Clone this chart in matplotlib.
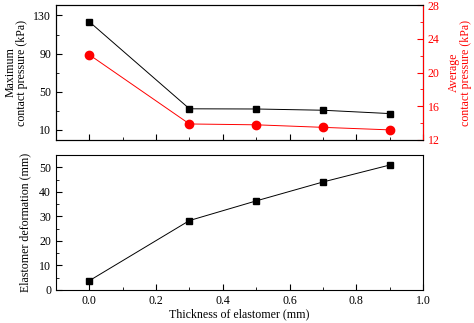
import matplotlib.pyplot as plt
from matplotlib.ticker import MultipleLocator

plt.rcParams['font.family'] = ['Liberation Serif', 'DejaVu Serif']
plt.rcParams['font.size'] = 8.6

thickness = [0.0, 0.3, 0.5, 0.7, 0.9]
max_pressure = [123.4, 32.2, 32.0, 30.7, 27.2]
avg_pressure = [22.1, 13.9, 13.8, 13.5, 13.2]
deformation = [3.8, 28.3, 36.3, 44.0, 50.9]

fig = plt.figure(figsize=(4.74, 3.23), dpi=100)
ax1 = fig.add_axes([56/474, 1 - 140/323, 367/474, 135/323])
ax3 = fig.add_axes([56/474, 1 - 290/323, 367/474, 135/323])

ax1.plot(thickness, max_pressure, color='black', lw=0.7, marker='s', ms=5, mfc='black')
ax1.set_xlim(-0.1, 1.0)
ax1.set_ylim(-0.5, 141)
ax1.set_yticks([10, 50, 90, 130])
ax1.set_yticks([30, 70, 110], minor=True)
ax1.xaxis.set_major_locator(MultipleLocator(0.2))
ax1.xaxis.set_minor_locator(MultipleLocator(0.1))
ax1.tick_params(which='both', direction='in', labelbottom=False)
ax1.tick_params(which='major', length=4)
ax1.tick_params(which='minor', length=2)
ax1.set_ylabel('Maximum\ncontact pressure (kPa)', linespacing=0.95, labelpad=4)

ax2 = ax1.twinx()
ax2.plot(thickness, avg_pressure, color='red', lw=0.7, marker='o', ms=6, mfc='red', mec='red')
ax2.set_ylim(12, 28)
ax2.yaxis.set_major_locator(MultipleLocator(4))
ax2.yaxis.set_minor_locator(MultipleLocator(2))
ax2.tick_params(which='both', direction='in', colors='red')
ax2.tick_params(which='major', length=4)
ax2.tick_params(which='minor', length=2)
ax2.set_ylabel('Average\ncontact pressure (kPa)', color='red', linespacing=0.95, labelpad=6)

ax3.plot(thickness, deformation, color='black', lw=0.7, marker='s', ms=5, mfc='black')
ax3.set_xlim(-0.1, 1.0)
ax3.set_ylim(0, 55)
ax3.yaxis.set_major_locator(MultipleLocator(10))
ax3.yaxis.set_minor_locator(MultipleLocator(5))
ax3.xaxis.set_major_locator(MultipleLocator(0.2))
ax3.xaxis.set_minor_locator(MultipleLocator(0.1))
ax3.tick_params(which='both', direction='in')
ax3.tick_params(which='major', length=4)
ax3.tick_params(which='minor', length=2)
ax3.set_ylabel('Elastomer deformation (mm)', labelpad=6)
ax3.set_xlabel('Thickness of elastomer (mm)', labelpad=1)

for ax in (ax1, ax2, ax3):
    for s in ax.spines.values():
        s.set_linewidth(0.8)
ax2.spines['right'].set_color('red')

fig.savefig('out.png', dpi=100)
